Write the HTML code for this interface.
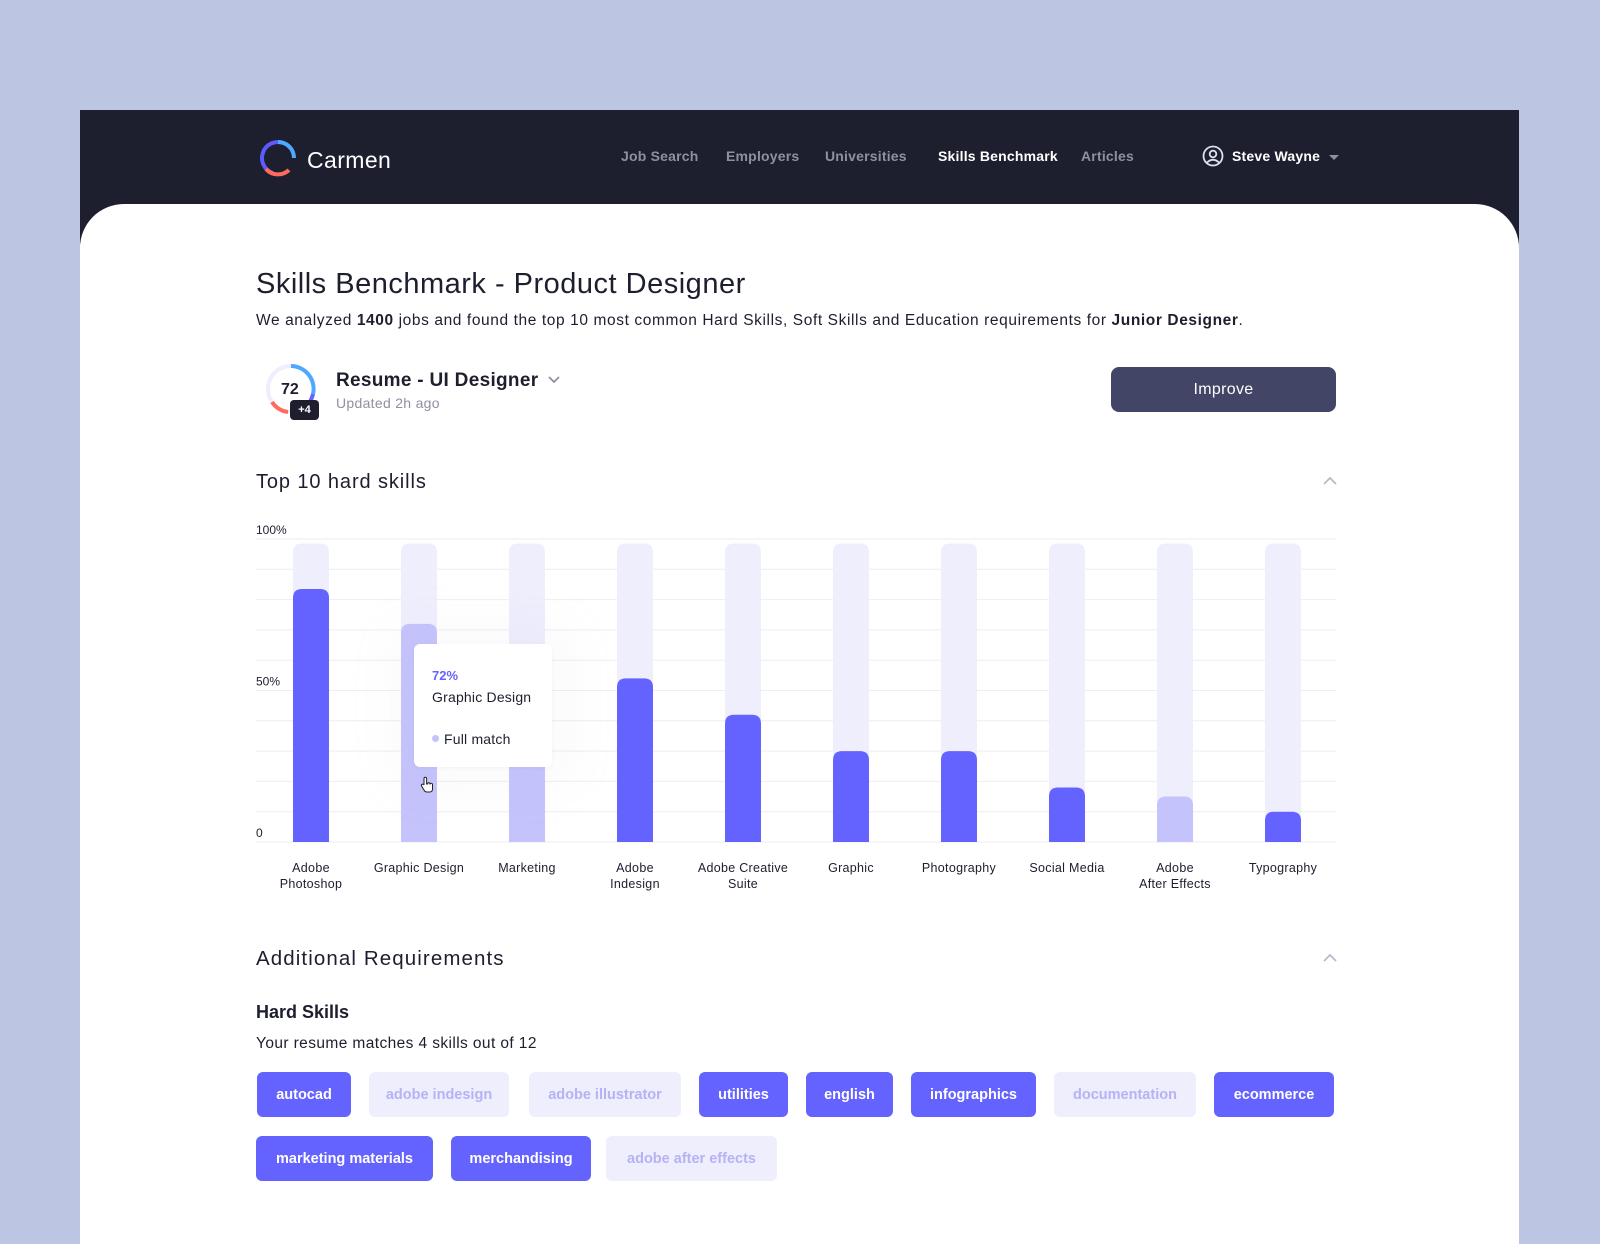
<!DOCTYPE html>
<html><head><meta charset="utf-8">
<style>
*{box-sizing:border-box;margin:0;padding:0}
body{width:1600px;height:1200px;background:#BCC6E2;font-family:"Liberation Sans",sans-serif;position:relative;overflow:hidden;color:#1D1E2E}
.abs{position:absolute}
#nav{left:80px;top:110px;width:1439px;height:134px;background:#1D1E2E}
#card{left:80px;top:204px;width:1439px;height:1040px;background:#fff;border-radius:44px 44px 0 0}
.navlink{top:148px;font-size:14px;font-weight:bold;color:#8E90A0;white-space:nowrap;letter-spacing:0.2px}
.chip{height:45px;border-radius:6px;font-size:14.5px;font-weight:bold;display:flex;align-items:center;justify-content:center}
.on{background:#6563FF;color:#fff}
.off{background:#EEEEFD;color:#B5B3F5}
</style></head><body>
<div class="abs" id="nav"></div>
<svg class="abs" style="left:258px;top:138px" width="40" height="40">
<circle cx="20" cy="20" r="16" fill="none" stroke="#5B5BFF" stroke-width="4" stroke-dasharray="60 100" transform="rotate(110 20 20)"/>
<path d="M20 4 A16 16 0 0 1 36 20" fill="none" stroke="#4FA8FF" stroke-width="4"/>
<path d="M8 31 A16 16 0 0 0 31 32" fill="none" stroke="#FF6B5B" stroke-width="4"/>
</svg>
<div class="abs" style="left:307px;top:147px;font-size:23px;color:#fff;letter-spacing:0.4px">Carmen</div>
<div class="abs navlink" style="left:621px">Job Search</div>
<div class="abs navlink" style="left:726px">Employers</div>
<div class="abs navlink" style="left:825px">Universities</div>
<div class="abs navlink" style="left:938px;color:#fff">Skills Benchmark</div>
<div class="abs navlink" style="left:1081px">Articles</div>
<svg class="abs" style="left:1202px;top:145px" width="22" height="22"><circle cx="11" cy="11" r="9.5" fill="none" stroke="#DDDFF0" stroke-width="1.8"/><circle cx="11" cy="9" r="3.3" fill="none" stroke="#DDDFF0" stroke-width="1.8"/><path d="M5 17.5 Q11 12 17 17.5" fill="none" stroke="#DDDFF0" stroke-width="1.8"/></svg>
<div class="abs" style="left:1232px;top:148px;font-size:14px;font-weight:bold;color:#fff;letter-spacing:0.2px">Steve Wayne</div>
<div class="abs" style="left:1329px;top:155px;width:0;height:0;border-left:5px solid transparent;border-right:5px solid transparent;border-top:5px solid #8E90A0"></div>

<div class="abs" id="card"></div>
<div class="abs" style="left:256px;top:268px;font-size:29px;letter-spacing:0.5px">Skills Benchmark - Product Designer</div>
<div class="abs" style="left:256px;top:312px;font-size:15.5px;white-space:nowrap;letter-spacing:0.6px">We analyzed <b>1400</b> jobs and found the top 10 most common Hard Skills, Soft Skills and Education requirements for <b>Junior Designer</b>.</div>

<svg class="abs" style="left:264px;top:362px" width="56" height="56">
<circle cx="27" cy="27" r="23" fill="none" stroke="#EEEEFD" stroke-width="4"/>
<path d="M27 4 A23 23 0 0 1 49 32" fill="none" stroke="#4FA8FF" stroke-width="4"/>
<path d="M49 32 A23 23 0 0 1 30 50" fill="none" stroke="#6563FF" stroke-width="4"/>
<path d="M8 40 A23 23 0 0 0 24 50" fill="none" stroke="#FF6B5B" stroke-width="4"/>
</svg>
<div class="abs" style="left:281px;top:381px;font-size:16px;font-weight:bold">72</div>
<div class="abs" style="left:290px;top:400px;width:29px;height:20px;background:#1D1E2E;border-radius:4px;color:#fff;font-size:11px;font-weight:bold;text-align:center;line-height:20px">+4</div>
<div class="abs" style="left:336px;top:370px;font-size:19px;font-weight:bold;letter-spacing:0.3px;white-space:nowrap">Resume - UI Designer</div>
<svg class="abs" style="left:547px;top:375px" width="14" height="10"><path d="M2 2 L7 7 L12 2" fill="none" stroke="#8E90A0" stroke-width="1.8"/></svg>
<div class="abs" style="left:336px;top:395px;font-size:14px;color:#8E90A0;letter-spacing:0.3px">Updated 2h ago</div>
<div class="abs" style="left:1111px;top:367px;width:225px;height:45px;background:#434567;border-radius:8px;color:#fff;font-size:16px;display:flex;align-items:center;justify-content:center;letter-spacing:0.3px">Improve</div>

<div class="abs" style="left:256px;top:471px;font-size:20px;letter-spacing:0.9px">Top 10 hard skills</div>
<svg class="abs" style="left:1322px;top:475px" width="16" height="12"><path d="M2 9 L8 3 L14 9" fill="none" stroke="#B8BACB" stroke-width="1.8"/></svg>

<svg class="abs" id="chart" style="left:0;top:0" width="1600" height="900"></svg>

<div class="abs" style="left:414px;top:644px;width:138px;height:123px;background:#fff;border-radius:6px;box-shadow:0 0 50px 20px rgba(180,180,210,0.07),0 1px 4px rgba(0,0,0,0.04)">
<div style="position:absolute;left:18px;top:24px;font-size:13px;font-weight:bold;color:#6563FF">72%</div>
<div style="position:absolute;left:18px;top:45px;font-size:14px;letter-spacing:0.2px">Graphic Design</div>
<div style="position:absolute;left:18px;top:87px;font-size:14px;letter-spacing:0.2px"><span style="display:inline-block;width:7px;height:7px;border-radius:50%;background:#C5C3FC;margin-right:5px;vertical-align:2px"></span>Full match</div>
</div>
<svg class="abs" style="left:420px;top:776px" width="14" height="18"><path d="M4 9 V2.5 a1.3 1.3 0 0 1 2.6 0 V8 h1 a1.2 1.2 0 0 1 2.4 0 h0.2 a1.2 1.2 0 0 1 2.3 0.5 V13 q0 3 -3 3 H7 q-2 0 -3 -2 L1.5 10 a1.2 1.2 0 0 1 2.5 -1z" fill="#fff" stroke="#222" stroke-width="1"/></svg>

<div class="abs" style="left:256px;top:947px;font-size:20.5px;letter-spacing:1.1px">Additional Requirements</div>
<svg class="abs" style="left:1322px;top:952px" width="16" height="12"><path d="M2 9 L8 3 L14 9" fill="none" stroke="#B8BACB" stroke-width="1.8"/></svg>
<div class="abs" style="left:256px;top:1002px;font-size:18px;font-weight:bold">Hard Skills</div>
<div class="abs" style="left:256px;top:1035px;font-size:15.5px;letter-spacing:0.4px">Your resume matches 4 skills out of 12</div>

<div class="abs chip on" style="left:257px;top:1072px;width:94px">autocad</div>
<div class="abs chip off" style="left:369px;top:1072px;width:140px">adobe indesign</div>
<div class="abs chip off" style="left:529px;top:1072px;width:152px">adobe illustrator</div>
<div class="abs chip on" style="left:699px;top:1072px;width:89px">utilities</div>
<div class="abs chip on" style="left:806px;top:1072px;width:87px">english</div>
<div class="abs chip on" style="left:911px;top:1072px;width:125px">infographics</div>
<div class="abs chip off" style="left:1054px;top:1072px;width:142px">documentation</div>
<div class="abs chip on" style="left:1214px;top:1072px;width:120px">ecommerce</div>
<div class="abs chip on" style="left:256px;top:1136px;width:177px">marketing materials</div>
<div class="abs chip on" style="left:451px;top:1136px;width:140px">merchandising</div>
<div class="abs chip off" style="left:606px;top:1136px;width:171px">adobe after effects</div>

<script>
const categories = ["Adobe\nPhotoshop","Graphic Design","Marketing","Adobe\nIndesign","Adobe Creative\nSuite","Graphic","Photography","Social Media","Adobe\nAfter Effects","Typography"];
const values = [83.5,72,62,54,42,30,30,18,15,10];
const fullMatch = [false,true,true,false,false,false,false,false,true,false];
const yTicks = [0,50,100];
const yTickLabels = ["0","50%","100%"];
const backgroundMax = 98.5;

const NS="http://www.w3.org/2000/svg";
const svg=document.getElementById('chart');
const x0=256,x1=1336,yBase=842,yTop=539,bw=36;
const y=v=>yBase-(v/100)*(yBase-yTop);
const step=(x1-x0)/categories.length;
const xc=i=>x0+step*(i+0.5)+1;
function mk(t,a){const e=document.createElementNS(NS,t);for(const k in a)e.setAttribute(k,a[k]);svg.appendChild(e);return e;}
for(let g=0;g<=10;g++){
  const l=mk('line',{x1:x0,x2:x1,y1:y(g*10),y2:y(g*10),stroke:'#EEEEF2','stroke-width':1});
  
  
}
yTicks.forEach((t,i)=>{
  const e=mk('text',{x:x0,y:y(t)-5,'font-size':12,fill:'#1D1E2E','font-family':'Liberation Sans, sans-serif'});
  e.textContent=yTickLabels[i];
  
  
});
function bar(cx,top,fill){
  const h=yBase-top,r=Math.min(9,h/2),l=cx-bw/2;
  return mk('path',{d:`M${l} ${yBase} V${top+r} Q${l} ${top} ${l+r} ${top} H${l+bw-r} Q${l+bw} ${top} ${l+bw} ${top+r} V${yBase} Z`,fill});
}
categories.forEach((c,i)=>{
  const b=bar(xc(i),y(backgroundMax),'#EEEEFD');
  
  
  const v=bar(xc(i),y(values[i]),fullMatch[i]?'#C5C3FC':'#6563FF');
  
  
  const t=mk('text',{x:xc(i),y:yBase+30,'font-size':12.5,fill:'#1D1E2E','text-anchor':'middle','font-family':'Liberation Sans, sans-serif','letter-spacing':0.3});
  
  
  c.split('\n').forEach((ln,j)=>{const s=document.createElementNS(NS,'tspan');s.setAttribute('x',xc(i));s.setAttribute('dy',j?16:0);s.textContent=ln;t.appendChild(s);});
});
</script>
</body></html>
